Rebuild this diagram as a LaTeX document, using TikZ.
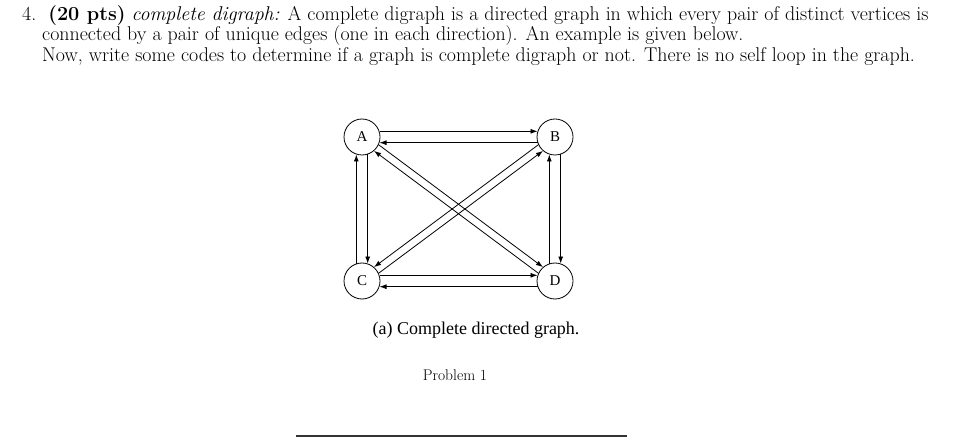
\documentclass[tikz,border=0pt]{standalone}
\usepackage{fontspec}
\newfontfamily\figfont{Liberation Serif}
\usetikzlibrary{arrows.meta}
\begin{document}
\begin{tikzpicture}[x=1pt,y=-1pt,
  vtx/.style={circle,draw,line width=0.8pt,minimum size=36pt,inner sep=0pt,font=\figfont\fontsize{15}{15}\selectfont},
  arr/.style={line width=0.8pt,-{Latex[length=7pt,width=5pt]}},
  txt/.style={anchor=base west,inner sep=0pt,font=\fontsize{19.9}{20}\selectfont}]
\useasboundingbox (0,0) rectangle (955,438);
\node[txt] (l1) at (22,21) {4.\ \ \textbf{(20 pts)} \textit{complete digraph:} A complete digraph is a directed graph in which every pair of distinct vertices is};
\node[txt] (l2) at (42,41) {connected by a pair of unique edges (one in each direction). An example is given below.};
\node[txt] (l3) at (42,62) {Now, write some codes to determine if a graph is complete digraph or not. There is no self loop in the graph.};
\node[vtx] (A) at (362,137) {A};
\node[vtx] (B) at (555,137) {B};
\node[vtx] (C) at (362,281) {C};
\node[vtx] (D) at (555,281) {D};
\draw[arr] (A.18) -- (B.162);
\draw[arr] (B.198) -- (A.-18);
\draw[arr] (C.18) -- (D.162);
\draw[arr] (D.198) -- (C.-18);
\draw[arr] (A.-72) -- (C.72);
\draw[arr] (C.108) -- (A.252);
\draw[arr] (B.-72) -- (D.72);
\draw[arr] (D.108) -- (B.252);
\draw[arr] (A.-25) -- (D.131);
\draw[arr] (D.155) -- (A.-49);
\draw[arr] (B.205) -- (C.49);
\draw[arr] (C.25) -- (B.229);
\node[font=\figfont\fontsize{18}{18}\selectfont] (cap) at (476,330) {(a) Complete directed graph.};
\node[font=\fontsize{15.5}{16}\selectfont] (p) at (455,375) {Problem 1};
\draw[line width=1.2pt,draw=black!80] (296,436) -- (627,436);
\end{tikzpicture}
\end{document}
